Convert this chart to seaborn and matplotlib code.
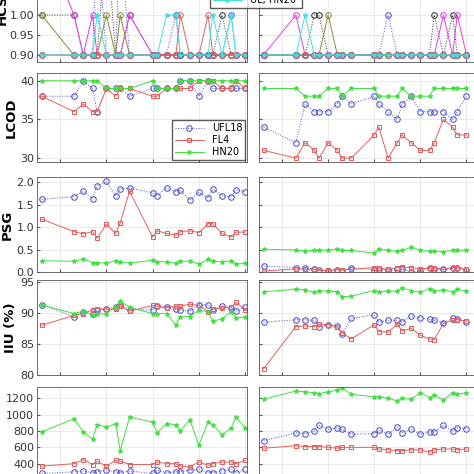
import numpy as np
import matplotlib
matplotlib.use('Agg')
import matplotlib.pyplot as plt
import seaborn as sns

days = [6, 13, 15, 17, 18, 20, 22, 23, 25, 30, 31, 33, 35, 36, 38, 40, 42, 43, 45, 47, 48, 50]

# HCSR (values above 1 run off the top of the panel)
hcsr_left = {
    'LL, UFL18': [1, 1, 0.9, 0.9, 0.9, 1.2, 0.9, 0.9, 1, 0.9, 0.9, 0.9, 0.9, 0.9, 0.9, 0.9, 0.9, 0.9, 1, 0.9, 0.9, 0.9],
    'LL, FL4': [1.2, 1, 0.9, 1, 0.9, 0.9, 0.9, 0.9, 1, 0.9, 0.9, 0.9, 0.9, 0.9, 0.9, 0.9, 0.9, 0.9, 0.9, 0.9, 0.9, 0.9],
    'LL, HN20': [1, 0.9, 0.9, 0.9, 0.9, 1, 0.9, 1, 0.9, 0.9, 0.9, 0.9, 0.9, 0.9, 0.9, 0.9, 0.9, 0.9, 0.9, 0.9, 0.9, 0.9],
    'UL, UFL18': [0.9, 0.9, 0.9, 0.9, 1.2, 0.9, 0.9, 1.2, 0.9, 0.9, 0.9, 0.9, 1, 0.9, 0.9, 0.9, 0.9, 0.9, 0.9, 1, 0.9, 0.9],
    'UL, FL4': [0.9, 0.9, 0.9, 0.9, 0.9, 0.9, 0.9, 0.9, 0.9, 0.9, 0.9, 0.9, 0.9, 1, 0.9, 0.9, 1, 0.9, 0.9, 0.9, 0.9, 0.9],
    'UL, HN20': [0.9, 0.9, 0.9, 0.9, 1, 0.9, 0.9, 0.9, 0.9, 0.9, 0.9, 1, 1, 0.9, 0.9, 0.9, 0.9, 1, 0.9, 1, 0.9, 0.9],
}
hcsr_right = {
    'LL, UFL18': [0.9, 0.9, 0.9, 1, 1, 0.9, 0.9, 0.9, 0.9, 0.9, 0.9, 0.9, 0.9, 0.9, 0.9, 0.9, 0.9, 1, 0.9, 1, 0.9, 0.9],
    'LL, FL4': [0.9, 1, 0.9, 0.9, 0.9, 0.9, 0.9, 0.9, 0.9, 0.9, 0.9, 0.9, 0.9, 0.9, 0.9, 0.9, 0.9, 0.9, 1, 0.9, 1, 0.9],
    'LL, HN20': [0.9, 0.9, 0.9, 0.9, 0.9, 1, 0.9, 0.9, 0.9, 0.9, 0.9, 0.9, 0.9, 0.9, 0.9, 0.9, 0.9, 0.9, 0.9, 0.9, 0.9, 0.9],
    'UL, UFL18': [0.9, 0.9, 0.9, 0.9, 0.9, 0.9, 0.9, 0.9, 0.9, 0.9, 0.9, 1, 0.9, 0.9, 0.9, 0.9, 0.9, 0.9, 0.9, 0.9, 0.9, 0.9],
    'UL, FL4': [0.9] * 22,
    'UL, HN20': [0.9, 0.9, 1, 0.9, 0.9, 0.9, 0.9, 0.9, 0.9, 0.9, 0.9, 0.9, 0.9, 0.9, 0.9, 0.9, 0.9, 0.9, 0.9, 0.9, 0.9, 0.9],
}

lcod_left = {
    'UFL18': [38, 38, 40, 39, 36, 39, 39, 39, 38, 39, 39, 39, 39, 40, 40, 38, 40, 39, 39, 39, 39, 39],
    'FL4': [38, 36, 37, 36, 36, 39, 38, 39, 39, 38, 38, 39, 39, 39, 39, 40, 40, 40, 39, 39, 40, 39],
    'HN20': [40, 40, 40, 40, 40, 39, 39, 39, 39, 40, 39, 39, 39, 40, 40, 40, 40, 40, 40, 40, 40, 40],
}
lcod_right = {
    'UFL18': [34, 32, 37, 36, 36, 36, 37, 38, 37, 38, 37, 36, 35, 37, 38, 36, 36, 36, 36, 35, 36, 38],
    'FL4': [31, 30, 32, 31, 30, 32, 31, 30, 30, 33, 34, 30, 32, 33, 32, 31, 31, 32, 35, 34, 33, 33],
    'HN20': [39, 39, 38, 38, 38, 39, 39, 38, 39, 39, 38, 38, 38, 39, 38, 38, 38, 39, 39, 39, 39, 39],
}
psg_left = {
    'UFL18': [1.62, 1.68, 1.8, 1.63, 1.93, 2.02, 1.7, 1.86, 1.87, 1.77, 1.7, 1.88, 1.79, 1.83, 1.6, 1.78, 1.65, 1.85, 1.7, 1.68, 1.84, 1.79],
    'FL4': [1.18, 0.9, 0.85, 0.9, 0.75, 1.07, 0.86, 1.1, 1.8, 0.78, 0.92, 0.86, 0.82, 0.9, 0.92, 0.88, 1.08, 1.08, 0.86, 0.78, 0.89, 0.89],
    'HN20': [0.25, 0.24, 0.29, 0.21, 0.21, 0.2, 0.25, 0.22, 0.2, 0.26, 0.23, 0.23, 0.19, 0.24, 0.24, 0.18, 0.28, 0.24, 0.23, 0.25, 0.18, 0.19],
}
psg_right = {
    'UFL18': [0.13, 0.1, 0.08, 0.07, 0.04, 0.03, 0.05, 0.03, 0.09, 0.05, 0.07, 0.04, 0.06, 0.06, 0.01, 0.03, 0.1, 0.07, 0.06, 0.08, 0.1, 0.05],
    'FL4': [0.02, 0.07, 0.06, 0.06, 0.03, 0.04, 0.05, 0.05, 0.06, 0.1, 0.08, 0.06, 0.1, 0.11, 0.1, 0.07, 0.09, 0.09, 0.06, 0.1, 0.09, 0.06],
    'HN20': [0.51, 0.49, 0.47, 0.48, 0.48, 0.49, 0.51, 0.48, 0.48, 0.42, 0.51, 0.49, 0.46, 0.48, 0.55, 0.49, 0.46, 0.46, 0.45, 0.49, 0.49, 0.48],
}
iiu_left = {
    'UFL18': [91.3, 89.4, 90.2, 89.8, 90.4, 90.7, 90.9, 91.2, 90.5, 90.5, 91.1, 91.0, 90.6, 90.5, 90.3, 91.3, 91.3, 90.5, 91.1, 90.8, 90.3, 91.0],
    'FL4': [88.0, 89.6, 89.9, 90.5, 90.7, 90.6, 90.6, 91.1, 90.3, 91.2, 91.1, 90.8, 91.1, 91.1, 91.4, 91.2, 90.2, 90.6, 90.8, 90.9, 91.7, 90.5],
    'HN20': [91.3, 89.9, 90.3, 89.7, 89.8, 89.9, 91.0, 91.9, 90.9, 89.9, 89.9, 89.9, 88.1, 89.4, 89.4, 90.4, 90.2, 88.7, 89.0, 90.2, 89.2, 89.3],
}
iiu_right = {
    'UFL18': [88.5, 88.9, 88.9, 88.8, 87.7, 88.1, 87.9, 86.6, 89.1, 89.7, 88.5, 88.8, 88.8, 88.5, 89.5, 89.2, 89.0, 88.8, 88.4, 89.1, 89.0, 88.6],
    'FL4': [81.0, 87.8, 87.9, 87.8, 88.2, 88.1, 87.7, 86.8, 85.8, 88.1, 87.0, 86.9, 88.2, 87.1, 87.5, 86.4, 85.8, 85.7, 88.3, 88.8, 88.9, 88.7],
    'HN20': [93.4, 93.8, 93.7, 93.3, 93.6, 93.5, 93.4, 92.6, 92.7, 93.6, 93.4, 93.5, 93.5, 94.0, 93.6, 93.3, 93.9, 93.6, 93.7, 93.4, 93.8, 93.5],
}
snr_left = {
    'UFL18': [280, 300, 310, 290, 300, 320, 300, 290, 310, 280, 320, 290, 300, 300, 320, 330, 290, 290, 310, 330, 290, 330],
    'FL4': [370, 400, 450, 390, 430, 370, 440, 430, 390, 390, 420, 400, 400, 370, 360, 420, 380, 400, 420, 420, 400, 440],
    'HN20': [790, 950, 790, 700, 880, 850, 890, 560, 970, 910, 780, 890, 880, 800, 940, 630, 910, 880, 750, 840, 970, 840],
}
snr_right = {
    'UFL18': [680, 780, 770, 800, 870, 820, 840, 820, 760, 770, 810, 760, 850, 780, 820, 760, 790, 790, 870, 800, 840, 830],
    'FL4': [590, 620, 610, 610, 610, 600, 590, 600, 600, 600, 580, 570, 560, 560, 570, 570, 540, 570, 580, 580, 570, 580],
    'HN20': [1190, 1290, 1280, 1270, 1260, 1280, 1300, 1330, 1250, 1220, 1220, 1200, 1170, 1200, 1190, 1270, 1210, 1240, 1180, 1270, 1250, 1270],
}

blue, red, green = '#5050d0', '#e06060', '#40e040'
styles = {
    'UFL18': dict(color=blue, ls=':', marker='o', mfc='none', ms=4),
    'FL4': dict(color=red, ls='-', marker='s', mfc='none', ms=3.2),
    'HN20': dict(color=green, ls='-', marker='*', ms=3.5),
    'LL, UFL18': dict(color='#333333', ls=':', marker='o', mfc='none', ms=4),
    'LL, FL4': dict(color='#e040e0', ls='-', marker='o', mfc='none', ms=4),
    'LL, HN20': dict(color='#8a8a30', ls='-', marker='o', mfc='none', ms=4),
    'UL, UFL18': dict(color=blue, ls=':', marker='o', mfc='none', ms=4),
    'UL, FL4': dict(color=red, ls='-', marker='o', mfc='none', ms=4),
    'UL, HN20': dict(color='#40e0e0', ls='-', marker='*', ms=3.5),
}

W = H = 474.0
fig = plt.figure(figsize=(4.74, 4.74), dpi=100)
rows = [  # (top px, bottom px, ylabel, ylim, yticks, left data, right data)
    (-20, 62, 'HCSR', (0.8825, 1.0875), [0.9, 0.95, 1], hcsr_left, hcsr_right),
    (73, 162, 'LCOD', (29.5, 41), [30, 35, 40], lcod_left, lcod_right),
    (177, 272, 'PSG', (0, 2.12), [0, 0.5, 1, 1.5, 2], psg_left, psg_right),
    (280, 375, 'IIU (%)', (80, 95.3), [80, 85, 90, 95], iiu_left, iiu_right),
    (387, 480, 'SNR (a.u)', (200, 1340), [400, 600, 800, 1000, 1200], snr_left, snr_right),
]
cols = [(37, 210, (5, 50.4)), (259, 219, (5, 52.5))]

axes = []
for r, (top, bot, lab, ylim, yt, dl, dr) in enumerate(rows):
    for c, (x0, w, xlim) in enumerate(cols):
        ax = fig.add_axes([x0 / W, 1 - bot / H, w / W, (bot - top) / H])
        data = dl if c == 0 else dr
        for name, vals in data.items():
            st = styles[name]
            sns.lineplot(x=days, y=vals, ax=ax, color=st['color'], linestyle=st['ls'],
                         marker=st['marker'], markersize=st['ms'],
                         markerfacecolor=st.get('mfc', st['color']),
                         markeredgecolor=st['color'], linewidth=0.7, label=name)
        ax.set_xlim(*xlim)
        ax.set_ylim(*ylim)
        ax.set_xticks([10, 20, 30, 40, 50])
        ax.set_xticklabels([])
        ax.set_yticks(yt)
        if c == 0:
            ax.set_ylabel(lab, fontsize=9.5, fontweight='bold', labelpad=2)
            ax.tick_params(axis='y', labelsize=8, labelcolor='#333333', pad=2)
        else:
            ax.set_yticklabels([])
        ax.tick_params(direction='in', length=2, color='#555555')
        ax.grid(True, color='#e6e6e6', linewidth=0.6)
        for s in ax.spines.values():
            s.set_color('#555555')
            s.set_linewidth(0.6)
        ax.get_legend().remove()
        axes.append(ax)

axes[0].yaxis.set_label_coords(-0.135, 0.7)

# legend in the LCOD left panel
h, l = axes[2].get_legend_handles_labels()
axes[2].legend(h, l, loc='lower right', fontsize=7, frameon=True, fancybox=False,
               edgecolor='#333333', borderpad=0.3, handlelength=3, labelspacing=0.2,
               borderaxespad=0.2)

# figure legend for HCSR (top entries run off the figure)
h, l = axes[0].get_legend_handles_labels()
fig.legend(h, l, loc='lower center', bbox_to_anchor=(0.54, 1 - 13 / H), fontsize=7,
           frameon=True, fancybox=False, edgecolor='#333333', borderpad=0.3,
           handlelength=3, labelspacing=0.2)

fig.savefig('out.png', dpi=100)
